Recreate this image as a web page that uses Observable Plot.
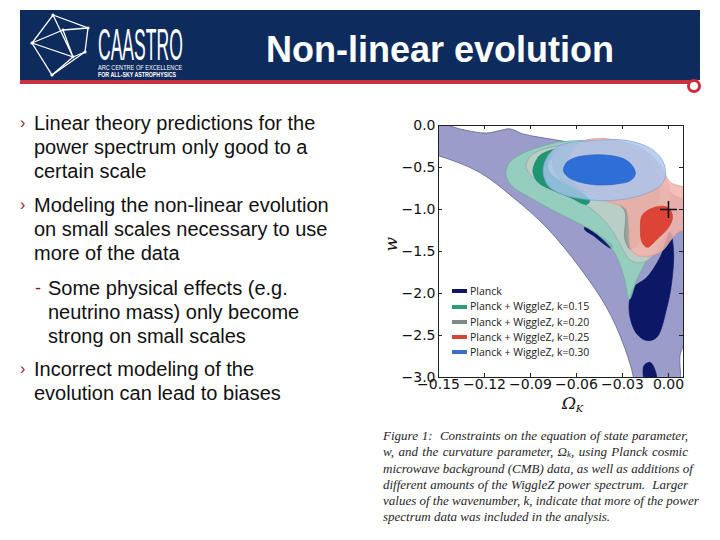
<!DOCTYPE html>
<html>
<head>
<meta charset="utf-8">
<script src="https://cdn.jsdelivr.net/npm/d3@7"></script>
<script src="https://cdn.jsdelivr.net/npm/@observablehq/plot@0.6"></script>
<style>
  html, body { margin: 0; padding: 0; background: #fff; }
  #page { position: relative; width: 720px; height: 540px; overflow: hidden; background: #fff; }
  .abs { position: absolute; }
  #banner { left: 20px; top: 10px; width: 680px; height: 70px; background: #0e2b5e; }
  #redline { left: 20px; top: 80px; width: 672px; height: 4px; background: #c9323f; }
  #title { left: 266px; top: 32px; text-align: left; color: #fff;
           font: bold 36px/36px "Liberation Sans", Arial, sans-serif; white-space: nowrap; }
  .para { left: 0; font: 20px/24px "Liberation Sans", Arial, sans-serif; color: #111; white-space: nowrap; }
  .para .b { position: absolute; color: #8b1c2c; font-size: 16px; }
  .cap { left: 383px; width: 305px; font: italic 13px/16px "Liberation Serif", "DejaVu Serif", serif; color: #262626; }
  .cap div { text-align: justify; text-align-last: justify; white-space: nowrap; }
  .cap div.last { text-align-last: left; }
  .leg { font: 10.5px/14px "Open Sans", "Liberation Sans", sans-serif; color: #222; white-space: nowrap; }
  .sw { position: absolute; width: 15px; height: 4px; }
</style>
</head>
<body>
<div id="page">
  <div id="banner" class="abs"></div>
  <div id="redline" class="abs"></div>
  <svg class="abs" style="left:0;top:0" width="720" height="100">
    <circle cx="694" cy="86" r="5.5" fill="#fff" stroke="#d22a3a" stroke-width="3"/>
    <g stroke="#fff" stroke-width="1.3" fill="none">
      <path d="M53,15 L88,28 L85,52 L52,75 L32,43 Z"/>
      <path d="M53,15 L73,57 L85,52 M63,30 L88,28 M63,30 L73,57 M32,43 L73,57 L52,75 M32,43 L63,30"/>
    </g>
    <g fill="#fff" font-family="Liberation Sans, Arial">
      <circle cx="53" cy="15" r="1.6"/><circle cx="88" cy="28" r="1.6"/><circle cx="85" cy="52" r="1.6"/>
      <circle cx="52" cy="75" r="1.6"/><circle cx="32" cy="43" r="1.6"/><circle cx="73" cy="57" r="1.4"/><circle cx="63" cy="30" r="1.4"/>
      <text transform="translate(98,60) scale(0.39,1)" font-size="45">CAASTRO</text>
      <text transform="translate(98,69.5) scale(0.7,1)" font-size="8">ARC CENTRE OF EXCELLENCE</text>
      <text transform="translate(98,77) scale(0.66,1)" font-size="8" font-weight="bold">FOR ALL-SKY ASTROPHYSICS</text>
    </g>
  </svg>
  <div id="title" class="abs">Non-linear evolution</div>

  <div class="abs para" style="top:111px"><span class="b" style="left:20px">›</span><div style="margin-left:34px">Linear theory predictions for the<br>power spectrum only good to a<br>certain scale</div></div>
  <div class="abs para" style="top:193px"><span class="b" style="left:20px">›</span><div style="margin-left:34px">Modeling the non-linear evolution<br>on small scales necessary to use<br>more of the data</div></div>
  <div class="abs para" style="top:276px"><span class="b" style="left:35px;font-size:18px">-</span><div style="margin-left:48px">Some physical effects (e.g.<br>neutrino mass) only become<br>strong on small scales</div></div>
  <div class="abs para" style="top:357px"><span class="b" style="left:20px">›</span><div style="margin-left:34px">Incorrect modeling of the<br>evolution can lead to biases</div></div>

  <div id="chart" class="abs" style="left:380px;top:110px"></div>
  <div id="legend" class="abs" style="left:0;top:0"></div>

  <div class="abs cap" style="top:428px">
    <div>Figure 1: &nbsp;Constraints on the equation of state parameter,</div>
    <div>w, and the curvature parameter, Ω<span style="font-size:9px;position:relative;top:1px">k</span>, using Planck cosmic</div>
    <div>microwave background (CMB) data, as well as additions of</div>
    <div>different amounts of the WiggleZ power spectrum. &nbsp;Larger</div>
    <div>values of the wavenumber, k, indicate that more of the power</div>
    <div class="last">spectrum data was included in the analysis.</div>
  </div>
</div>
<script>
// ---- data (Ω_K, w) ----
const xTicks = [-0.15, -0.12, -0.09, -0.06, -0.03, 0.00];
const yTicks = [0, -0.5, -1.0, -1.5, -2.0, -2.5, -3.0];
const legendLabels = ["Planck", "Planck + WiggleZ, k=0.15", "Planck + WiggleZ, k=0.20", "Planck + WiggleZ, k=0.25", "Planck + WiggleZ, k=0.30"];
const legendColors = ["#0c1766", "#2a9d78", "#7d8a86", "#d2473a", "#3a70c8"];
const fiducial = [[0.0, -1.0]];

const planck95 = [[-0.16,0.05],[-0.134,-0.05],[-0.119,-0.09],[-0.11,-0.06],[-0.1035,-0.04],[-0.095,-0.10],[-0.084,-0.14],[-0.0707,-0.18],[-0.0489,-0.258],[-0.027,-0.397],[-0.0096,-0.596],[0.0035,-0.834],[0.02,-0.95],[0.02,-2.3],[0.008,-2.7],[0.006,-3.1],[-0.023,-3.1],[-0.0229,-3.0],[-0.0295,-2.60],[-0.0404,-2.165],[-0.0579,-1.69],[-0.0797,-1.21],[-0.1015,-0.854],[-0.1234,-0.556],[-0.15,-0.36],[-0.165,-0.3]];
const planck68 = [[0.0011,-1.27],[-0.0055,-1.57],[-0.0142,-1.81],[-0.0229,-1.93],[-0.0255,-2.09],[-0.0251,-2.28],[-0.0207,-2.48],[-0.0142,-2.56],[-0.0076,-2.52],[-0.0011,-2.17],[0.0022,-1.85],[0.0033,-1.49]];
const planck68b = [[-0.0546,-1.21],[-0.0469,-1.28],[-0.036,-1.44],[-0.0375,-1.46],[-0.0491,-1.31],[-0.0546,-1.24]];
const planck68c = [[-0.016,-2.86],[-0.012,-2.82],[-0.009,-2.9],[-0.008,-3.05],[-0.015,-3.05]];
const green95 = [[-0.106,-0.58],[-0.104,-0.45],[-0.097,-0.35],[-0.088,-0.28],[-0.075,-0.21],[-0.06,-0.18],[-0.045,-0.18],[-0.03,-0.2],[-0.018,-0.3],[-0.008,-0.6],[-0.006,-1.0],[-0.0098,-1.43],[-0.0137,-1.59],[-0.0203,-1.82],[-0.0255,-2.07],[-0.0284,-1.85],[-0.0317,-1.65],[-0.036,-1.49],[-0.047,-1.29],[-0.0579,-1.17],[-0.0753,-1.01],[-0.0906,-0.854],[-0.102,-0.72]];
const green68 = [[-0.0884,-0.556],[-0.0873,-0.457],[-0.084,-0.358],[-0.0775,-0.298],[-0.071,-0.278],[-0.0753,-0.358],[-0.0786,-0.457],[-0.0775,-0.556],[-0.071,-0.656],[-0.0622,-0.735],[-0.0513,-0.894],[-0.0535,-0.94],[-0.0644,-0.854],[-0.0775,-0.755],[-0.0852,-0.675]];
const gray95 = [[-0.0928,-0.497],[-0.0906,-0.377],[-0.084,-0.298],[-0.071,-0.238],[-0.0535,-0.199],[-0.036,-0.199],[-0.0186,-0.258],[-0.0055,-0.497],[0.0011,-0.814],[-0.0011,-1.21],[-0.0076,-1.49],[-0.0164,-1.63],[-0.0251,-1.6],[-0.0317,-1.41],[-0.0382,-1.21],[-0.0491,-1.01],[-0.0622,-0.854],[-0.0775,-0.735],[-0.0884,-0.616]];
const gray68 = [[-0.075,-0.3],[-0.06,-0.22],[-0.035,-0.22],[-0.015,-0.35],[-0.006,-0.7],[-0.009,-1.07],[-0.018,-1.37],[-0.0248,-1.47],[-0.0285,-1.35],[-0.029,-1.0],[-0.045,-0.85],[-0.065,-0.72],[-0.074,-0.55]];
const red95 = [[-0.0576,-0.203],[-0.0425,-0.155],[-0.0268,-0.215],[-0.0137,-0.322],[-0.0052,-0.477],[0.0014,-0.679],[0.015,-0.78],[0.015,-1.2],[0.006,-1.275],[0.0014,-1.37],[-0.0039,-1.49],[-0.0117,-1.55],[-0.0196,-1.55],[-0.0248,-1.466],[-0.0261,-1.19],[-0.0281,-0.99],[-0.0379,-0.918],[-0.053,-0.81],[-0.0628,-0.655],[-0.0655,-0.417]];
const red68 = [[-0.0172,-1.073],[-0.0117,-0.993],[-0.003,-0.962],[0.0014,-1.013],[0.0025,-1.112],[-0.0008,-1.232],[-0.0073,-1.35],[-0.0139,-1.45],[-0.0172,-1.39],[-0.0183,-1.232]];
const blue95 = [[-0.0818,-0.536],[-0.0786,-0.358],[-0.0707,-0.238],[-0.0491,-0.179],[-0.0268,-0.179],[-0.0117,-0.274],[-0.0039,-0.417],[-0.0019,-0.596],[-0.0052,-0.715],[-0.0183,-0.834],[-0.0379,-0.894],[-0.0576,-0.87],[-0.0707,-0.81],[-0.0786,-0.715]];
const blue68 = [[-0.0685,-0.536],[-0.0663,-0.437],[-0.0598,-0.377],[-0.0489,-0.35],[-0.0379,-0.358],[-0.0292,-0.397],[-0.0237,-0.477],[-0.0216,-0.576],[-0.0248,-0.656],[-0.0336,-0.695],[-0.0467,-0.707],[-0.0576,-0.675],[-0.0653,-0.616]];

// ---- drawing ----
const layers = [
  {pts: planck95, fill: "#9a9cc9", stroke: "#4f548e", op: 1},
  {pts: planck68, fill: "#0c1766", stroke: "#0c1766", op: 1},
  {pts: planck68b, fill: "#0c1766", stroke: "#0c1766", op: 1},
  {pts: planck68c, fill: "#0c1766", stroke: "#0c1766", op: 1},
  {pts: green95, fill: "#94d6bd", stroke: "#6fae98", op: 0.85},
  {pts: gray95, fill: "#c6cdca", stroke: "#9aa4a0", op: 0.75},
  {pts: green68, fill: "#1f9673", stroke: "#1f8a6a", op: 1},
  {pts: gray68, fill: "#8d9894", stroke: "#7d8884", op: 0.8},
  {pts: red95, fill: "#f3b3a9", stroke: "#d99a90", op: 0.85},
  {pts: red68, fill: "#dc4535", stroke: "#c83a2c", op: 1},
  {pts: blue95, fill: "#a9c6ef", stroke: "#7f9fd0", op: 0.8},
  {pts: blue68, fill: "#2d6fd6", stroke: "#2a63c0", op: 1}
];
const W = 320, H = 310, mL = 58, mR = 17, mT = 15, mB = 43;
const fw = W - mL - mR, fh = H - mT - mB;
const chart = Plot.plot({
  width: W, height: H, marginLeft: mL, marginRight: mR, marginTop: mT, marginBottom: mB,
  x: {domain: [-0.15, 0.0098]},
  y: {domain: [-3, 0]},
  style: {fontFamily: "DejaVu Sans", fontSize: "14px", color: "#111", background: "transparent", overflow: "visible"},
  marks: [
    ...layers.map(L => Plot.line(L.pts, {x: d => d[0], y: d => d[1], curve: "catmull-rom-closed",
        fill: L.fill, fillOpacity: L.op, stroke: L.stroke, strokeWidth: 0.7, clip: true})),
    Plot.dot(fiducial, {x: d => d[0], y: d => d[1], symbol: "plus", r: 5.5, stroke: "#111", strokeWidth: 1.6}),
    Plot.ruleX(xTicks, {x: d => d, insetTop: fh - 4, stroke: "#222"}),
    Plot.ruleX(xTicks, {x: d => d, insetBottom: fh - 4, stroke: "#222"}),
    Plot.ruleY(yTicks, {y: d => d, insetRight: fw - 4, stroke: "#222"}),
    Plot.ruleY(yTicks, {y: d => d, insetLeft: fw - 4, stroke: "#222"}),
    Plot.frame({stroke: "#222", strokeWidth: 1}),
    Plot.axisX(xTicks, {tickSize: 0, tickPadding: 2, tickFormat: d3.format(".2f"), label: null}),
    Plot.axisY(yTicks, {tickSize: 0, tickPadding: 3, tickFormat: d3.format(".1f"), label: null}),
    Plot.text(["w"], {frameAnchor: "left", dx: -47, rotate: -90, fontFamily: "DejaVu Serif", fontStyle: "italic", fontSize: 17, fill: "#111"}),
    Plot.text(["Ω"], {frameAnchor: "bottom", dx: 8, dy: 31, fontFamily: "DejaVu Serif", fontStyle: "italic", fontSize: 17, fill: "#111"}),
    Plot.text(["K"], {frameAnchor: "bottom", dx: 18.5, dy: 34, fontFamily: "DejaVu Serif", fontStyle: "italic", fontSize: 10, fill: "#111"})
  ]
});
document.getElementById("chart").appendChild(chart);

// legend (inside plot area, lower left)
const leg = document.getElementById("legend");
const rowY = [291, 306.5, 322, 337, 352];
legendLabels.forEach((lab, i) => {
  const sw = document.createElement("div");
  sw.className = "sw";
  sw.style.left = "452px"; sw.style.top = (rowY[i] - 2) + "px"; sw.style.background = legendColors[i];
  leg.appendChild(sw);
  const t = document.createElement("div");
  t.className = "abs leg";
  t.style.left = "470px"; t.style.top = (rowY[i] - 7.5) + "px";
  t.textContent = lab;
  leg.appendChild(t);
});
</script>
</body>
</html>
